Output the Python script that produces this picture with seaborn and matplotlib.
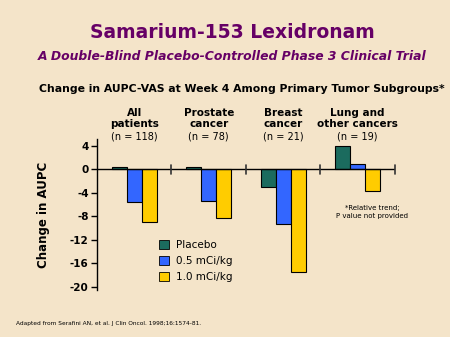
import matplotlib
matplotlib.use("Agg")
import matplotlib.pyplot as plt
import seaborn as sns
import pandas as pd
from matplotlib.transforms import blended_transform_factory
from matplotlib.patches import Patch

groups = ["All patients", "Prostate cancer", "Breast cancer", "Lung and other cancers"]
group_titles = ["All\npatients", "Prostate\ncancer", "Breast\ncancer", "Lung and\nother cancers"]
group_n = ["(n = 118)", "(n = 78)", "(n = 21)", "(n = 19)"]
doses = ["Placebo", "0.5 mCi/kg", "1.0 mCi/kg"]
placebo = [0.5, 0.5, -3.0, 4.0]
dose_05 = [-5.6, -5.4, -9.3, 0.9]
dose_10 = [-9.0, -8.3, -17.5, -3.6]
yticks = [4, 0, -4, -8, -12, -16, -20]
colors = ["#1b6b5e", "#3366ff", "#ffcc00"]

rows = []
for vals, d in zip([placebo, dose_05, dose_10], doses):
    for g, v in zip(groups, vals):
        rows.append({"group": g, "dose": d, "value": v})
df = pd.DataFrame(rows)

sns.set_style("white")
plt.rcParams["text.color"] = "black"
plt.rcParams["axes.labelcolor"] = "black"
plt.rcParams["ytick.color"] = "black"
bg = "#f4e4c9"
fig = plt.figure(figsize=(4.5, 3.37), dpi=100, facecolor=bg)
ax = fig.add_axes([0.2156, 0.139, 0.662, 0.4485])
ax.set_facecolor("none")

sns.barplot(data=df, x="group", y="value", hue="dose", order=groups, hue_order=doses,
            palette=colors, edgecolor="black", linewidth=0.8, width=0.6, ax=ax,
            legend=False, saturation=1)

ax.set_xlim(-0.5, 3.5)
ax.set_ylim(-20.6, 5.2)
ax.axhline(0, color="black", lw=1.0, zorder=5)
for xb in [0.5, 1.5, 2.5, 3.5]:
    ax.plot([xb, xb], [-0.7, 0.7], color="#333333", lw=1.2, zorder=5, clip_on=False)
for s in ["top", "right", "bottom"]:
    ax.spines[s].set_visible(False)
ax.spines["left"].set_color("black")
ax.spines["left"].set_linewidth(1.0)
ax.set_xticks([])
ax.set_xlabel("")
ax.set_yticks(yticks)
ax.set_yticklabels([str(t) for t in yticks], fontsize=7.5, fontweight="bold", color="black")
ax.tick_params(axis="y", direction="out", length=4, width=1, color="black", pad=2, left=True)
ax.set_ylabel("Change in AUPC", fontsize=8.5, fontweight="bold", labelpad=14, color="black")

tr = blended_transform_factory(ax.transData, fig.transFigure)
for i, (t, n) in enumerate(zip(group_titles, group_n)):
    ax.text(i, 1 - 108 / 337, t, transform=tr, ha="center", va="top", fontsize=7.5,
            fontweight="bold", linespacing=1.1, color="black")
    ax.text(i, 1 - 137 / 337, n, transform=tr, ha="center", va="center", fontsize=7,
            color="black")

handles = [Patch(facecolor=c, edgecolor="black", linewidth=0.6) for c in colors]
leg = fig.legend(handles, doses, loc="upper left", bbox_to_anchor=(150 / 450, 1 - 231 / 337),
                 frameon=False, fontsize=7.5, handlelength=0.9, handleheight=0.9,
                 labelspacing=0.55, handletextpad=0.7)
for t in leg.get_texts():
    t.set_color("black")

fig.text(372 / 450, 1 - 212 / 337, "*Relative trend;\nP value not provided", ha="center",
         va="center", fontsize=5, linespacing=1.3, color="black")

fig.text(232 / 450, 1 - 33 / 337, "Samarium-153 Lexidronam", ha="center", va="center",
         fontsize=13.5, fontweight="bold", color="#660066")
fig.text(232 / 450, 1 - 56 / 337, "A Double-Blind Placebo-Controlled Phase 3 Clinical Trial",
         ha="center", va="center", fontsize=8.9, fontweight="bold", style="italic", color="#660066")
fig.text(242 / 450, 1 - 89 / 337, "Change in AUPC-VAS at Week 4 Among Primary Tumor Subgroups*",
         ha="center", va="center", fontsize=7.8, fontweight="bold", color="black")
fig.text(16 / 450, 1 - 323 / 337, "Adapted from Serafini AN, et al. J Clin Oncol. 1998;16:1574-81.",
         ha="left", va="center", fontsize=4.2, color="black")

fig.savefig("out.png", dpi=100, facecolor=bg)
